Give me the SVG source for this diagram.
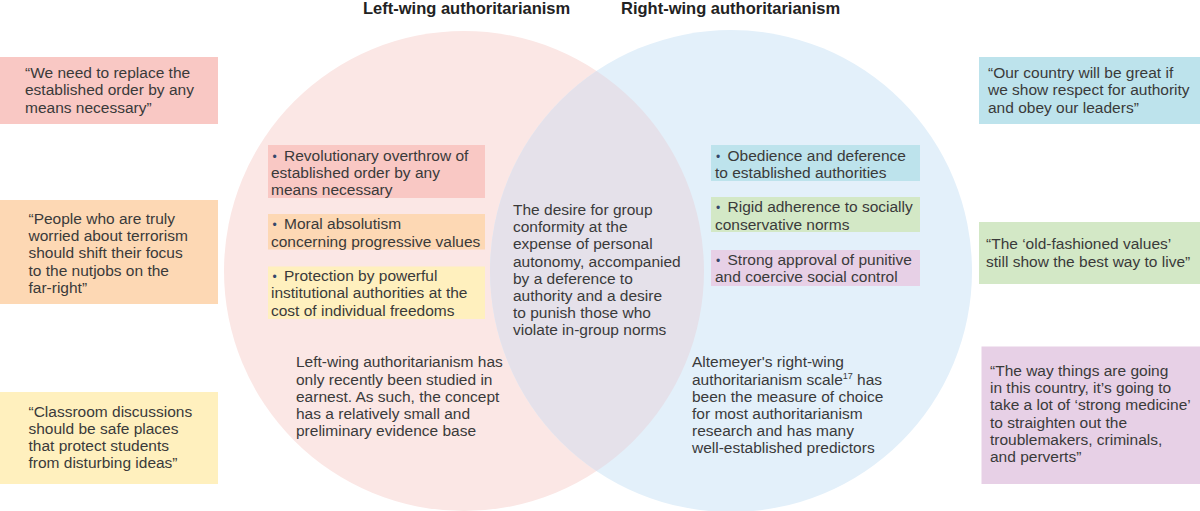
<svg xmlns="http://www.w3.org/2000/svg" width="1200" height="511" viewBox="0 0 1200 511">
  <style>
    text { font-family: "Liberation Sans", Arial, sans-serif; font-size: 15.5px; fill: #3a3a3a; }
    .title { font-weight: bold; font-size: 16.5px; fill: #222; }
    .b { fill: #34476b; font-size: 12px; }
    .sup { font-size: 9px; }
    .pink { fill: #f9c8c4; }
    .orange { fill: #fdd8b4; }
    .yellow { fill: #fff0be; }
    .teal { fill: #bde3ec; }
    .green { fill: #d3e8c6; }
    .purple { fill: #e7d0e6; }
  </style>
  <defs>
    <clipPath id="clipLeft">
      <circle cx="464" cy="271" r="240"/>
    </clipPath>
  </defs>

  <g id="venn">
    <circle id="left-circle" cx="464" cy="271" r="240" fill="#fbe7e5"/>
    <circle id="right-circle" cx="731" cy="271" r="241" fill="#e3f0fa"/>
    <circle id="overlap" cx="731" cy="271" r="241" fill="#e5e1ea" clip-path="url(#clipLeft)"/>
  </g>

  <g id="titles">
    <text class="title" x="363" y="13.5">Left-wing authoritarianism</text>
    <text class="title" x="621" y="13.5">Right-wing authoritarianism</text>
  </g>

  <g id="connectors"/>

  <g id="quote-left-1">
    <rect class="pink" x="0" y="57" width="218" height="67"/>
    <text><tspan x="25" y="78">“We need to replace the</tspan><tspan x="25" y="95.3">established order by any</tspan><tspan x="25" y="112.6">means necessary”</tspan></text>
  </g>
  <g id="quote-left-2">
    <rect class="orange" x="0" y="200" width="218" height="104"/>
    <text><tspan x="28.5" y="224">“People who are truly</tspan><tspan x="28.5" y="241.2">worried about terrorism</tspan><tspan x="28.5" y="258.4">should shift their focus</tspan><tspan x="28.5" y="275.6">to the nutjobs on the</tspan><tspan x="28.5" y="292.8">far-right”</tspan></text>
  </g>
  <g id="quote-left-3">
    <rect class="yellow" x="0" y="392" width="218" height="92"/>
    <text><tspan x="28.5" y="416.7">“Classroom discussions</tspan><tspan x="28.5" y="433.9">should be safe places</tspan><tspan x="28.5" y="451.1">that protect students</tspan><tspan x="28.5" y="468.3">from disturbing ideas”</tspan></text>
  </g>

  <g id="lwa-trait-1">
    <rect class="pink" x="268" y="145" width="217" height="53"/>
    <text><tspan class="b" x="272.5" y="160.5">•</tspan><tspan x="284" y="160.5">Revolutionary overthrow of</tspan><tspan x="271" y="177.8">established order by any</tspan><tspan x="271" y="195">means necessary</tspan></text>
  </g>
  <g id="lwa-trait-2">
    <rect class="orange" x="268" y="214" width="217" height="35.5"/>
    <text><tspan class="b" x="272.5" y="229.3">•</tspan><tspan x="284" y="229.3">Moral absolutism</tspan><tspan x="271" y="246.6">concerning progressive values</tspan></text>
  </g>
  <g id="lwa-trait-3">
    <rect class="yellow" x="268" y="266.5" width="217" height="52.5"/>
    <text><tspan class="b" x="272.5" y="281">•</tspan><tspan x="284" y="281">Protection by powerful</tspan><tspan x="271" y="298.3">institutional authorities at the</tspan><tspan x="271" y="315.6">cost of individual freedoms</tspan></text>
  </g>

  <g id="shared-definition">
    <text><tspan x="513" y="215">The desire for group</tspan><tspan x="513" y="232.2">conformity at the</tspan><tspan x="513" y="249.4">expense of personal</tspan><tspan x="513" y="266.6">autonomy, accompanied</tspan><tspan x="513" y="283.8">by a deference to</tspan><tspan x="513" y="301">authority and a desire</tspan><tspan x="513" y="318.2">to punish those who</tspan><tspan x="513" y="335.4">violate in-group norms</tspan></text>
  </g>

  <g id="lwa-note">
    <text><tspan x="296" y="367.3">Left-wing authoritarianism has</tspan><tspan x="296" y="384.5">only recently been studied in</tspan><tspan x="296" y="401.7">earnest. As such, the concept</tspan><tspan x="296" y="418.9">has a relatively small and</tspan><tspan x="296" y="436.1">preliminary evidence base</tspan></text>
  </g>

  <g id="rwa-trait-1">
    <rect class="teal" x="711" y="145" width="209" height="36"/>
    <text><tspan class="b" x="716" y="160.5">•</tspan><tspan x="727.5" y="160.5">Obedience and deference</tspan><tspan x="715" y="177.7">to established authorities</tspan></text>
  </g>
  <g id="rwa-trait-2">
    <rect class="green" x="711" y="197" width="209" height="35"/>
    <text><tspan class="b" x="716" y="212.3">•</tspan><tspan x="727.5" y="212.3">Rigid adherence to socially</tspan><tspan x="715" y="229.5">conservative norms</tspan></text>
  </g>
  <g id="rwa-trait-3">
    <rect class="purple" x="711" y="250" width="209" height="36"/>
    <text><tspan class="b" x="716" y="264.5">•</tspan><tspan x="727.5" y="264.5">Strong approval of punitive</tspan><tspan x="715" y="281.7">and coercive social control</tspan></text>
  </g>

  <g id="rwa-note">
    <text><tspan x="692" y="367.3">Altemeyer's right-wing</tspan><tspan x="692" y="384.5">authoritarianism scale</tspan><tspan class="sup" dy="-5.5">17</tspan><tspan dy="5.5"> has</tspan><tspan x="692" y="401.7">been the measure of choice</tspan><tspan x="692" y="418.9">for most authoritarianism</tspan><tspan x="692" y="436.1">research and has many</tspan><tspan x="692" y="453.3">well-established predictors</tspan></text>
  </g>

  <g id="quote-right-1">
    <rect class="teal" x="979" y="57" width="221" height="67"/>
    <text><tspan x="988" y="78">“Our country will be great if</tspan><tspan x="988" y="95.3">we show respect for authority</tspan><tspan x="988" y="112.6">and obey our leaders”</tspan></text>
  </g>
  <g id="quote-right-2">
    <rect class="green" x="979" y="222" width="221" height="62"/>
    <text><tspan x="986" y="249.3">“The ‘old-fashioned values’</tspan><tspan x="986" y="266.5">still show the best way to live”</tspan></text>
  </g>
  <g id="quote-right-3">
    <rect class="purple" x="981.5" y="346.5" width="218.5" height="137.5"/>
    <text><tspan x="990" y="376">“The way things are going</tspan><tspan x="990" y="393.2">in this country, it’s going to</tspan><tspan x="990" y="410.4">take a lot of ‘strong medicine’</tspan><tspan x="990" y="427.6">to straighten out the</tspan><tspan x="990" y="444.8">troublemakers, criminals,</tspan><tspan x="990" y="462">and perverts”</tspan></text>
  </g>
</svg>
